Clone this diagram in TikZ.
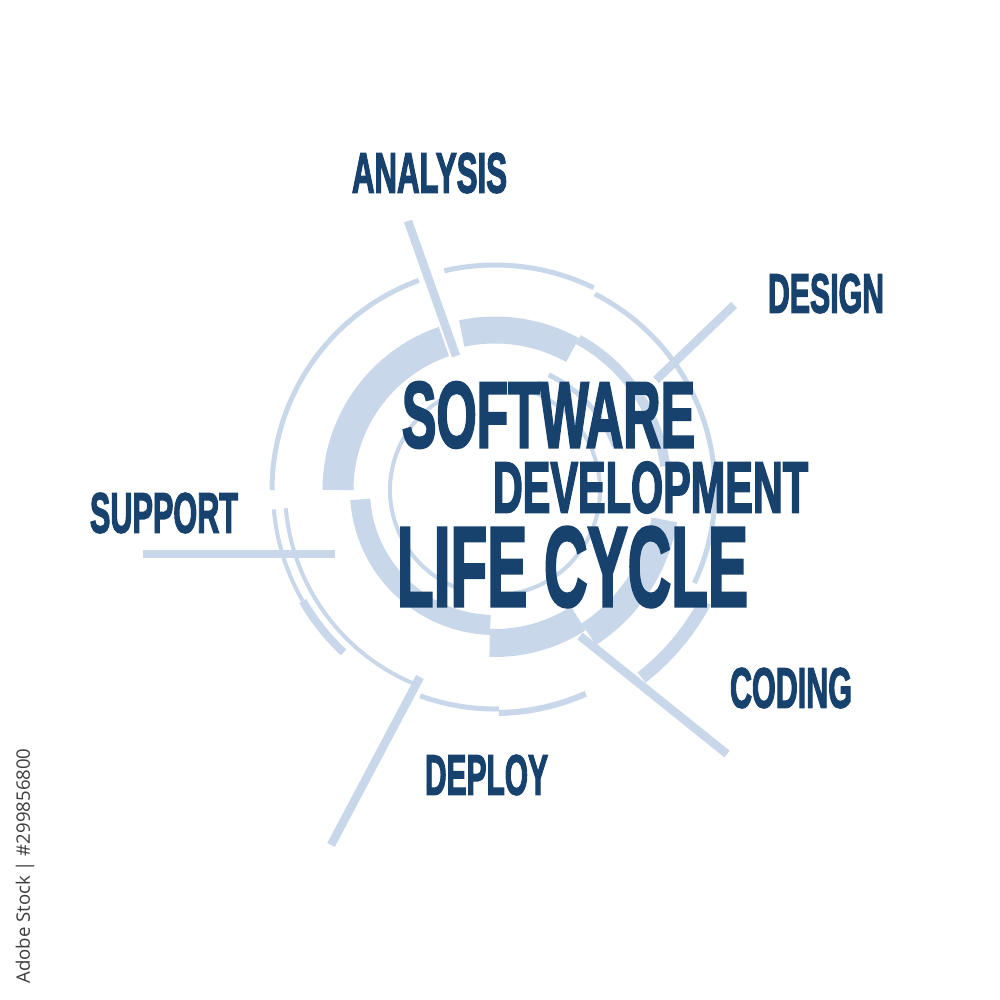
\documentclass[tikz,border=0pt]{standalone}
\usepackage{fontspec}
\usetikzlibrary{calc}
\newfontfamily\headfont{Liberation Sans}[FakeBold=3]
\newfontfamily\stockfont{Open Sans}
\definecolor{ringblue}{RGB}{200,216,234}
\definecolor{textblue}{RGB}{24,66,110}
\definecolor{stockgray}{RGB}{60,60,60}
\newcommand\fitword[3]{\resizebox*{#1}{#2}{\headfont\bfseries #3}}
\newcommand\ringarc[4]{\draw[ringarcstyle, line width={#4*0.01cm}] ($(C)+(#2:#1)$) arc[start angle=#2, end angle=#3, radius=#1];}
\tikzset{
  ringarcstyle/.style={draw=ringblue, line cap=butt},
  spoke/.style={draw=ringblue, line width=0.085cm, line cap=butt},
  headline/.style={text=textblue, inner sep=0pt, outer sep=0pt, anchor=center},
}
\begin{document}
\begin{tikzpicture}[x=0.01cm, y=-0.01cm]
\useasboundingbox[fill=white] (0,0) rectangle (1000,1000);
\coordinate (C) at (495,490);

% outer thin ring
\ringarc{223}{180}{250}{5}
\ringarc{225}{257}{296}{5}
\ringarc{220}{297}{385}{5}
\ringarc{222}{175}{150}{4}
\ringarc{222}{150}{133}{8}
\ringarc{210}{175}{113}{4}
\ringarc{219}{110}{89}{5}
\ringarc{223}{89}{66}{6}
\ringarc{238}{28}{52}{13}

% middle thick ring
\ringarc{157}{180}{251}{31}
\ringarc{160}{258}{299}{27}
\ringarc{172}{299}{352}{10}
\ringarc{172}{10}{57}{26}
\ringarc{153}{57}{92}{28}
\ringarc{135}{92}{176}{20}

% inner thin ring
\ringarc{105}{110}{250}{4}
\ringarc{105}{280}{440}{4}
\ringarc{127}{295}{340}{5}

% spokes
\coordinate (anaA) at (408,221);  \coordinate (anaB) at (456,356);
\coordinate (desA) at (734,305);  \coordinate (desB) at (656,380);
\coordinate (codA) at (580,636);  \coordinate (codB) at (727,754);
\coordinate (depA) at (420,677);  \coordinate (depB) at (331,845);
\coordinate (supA) at (143,554);  \coordinate (supB) at (335,554);
\draw[spoke] (anaA) -- (anaB);
\draw[spoke] (desA) -- (desB);
\draw[spoke] (codA) -- (codB);
\draw[spoke] (depA) -- (depB);
\draw[spoke] (supA) -- (supB);

% titles
\node[headline] (software) at (548.5,415) {\fitword{2.93cm}{0.66cm}{SOFTWARE}};
\node[headline] (development) at (650.5,487.5) {\fitword{3.15cm}{0.51cm}{DEVELOPMENT}};
\node[headline] (lifecycle) at (572.5,567) {\fitword{3.51cm}{0.80cm}{LIFE CYCLE}};

% phases
\node[headline] (analysis) at (429.5,173) {\fitword{1.55cm}{0.40cm}{ANALYSIS}};
\node[headline] (design) at (826,293.5) {\fitword{1.16cm}{0.39cm}{DESIGN}};
\node[headline] (coding) at (791,688) {\fitword{1.22cm}{0.40cm}{CODING}};
\node[headline] (deploy) at (486.5,775) {\fitword{1.23cm}{0.40cm}{DEPLOY}};
\node[headline] (support) at (164,513) {\fitword{1.48cm}{0.40cm}{SUPPORT}};

% stock id
\node[rotate=90, text=stockgray, inner sep=0pt] (stock) at (25,866) {\resizebox{2.35cm}{!}{\stockfont Adobe Stock | \#299856800}};
\end{tikzpicture}
\end{document}
